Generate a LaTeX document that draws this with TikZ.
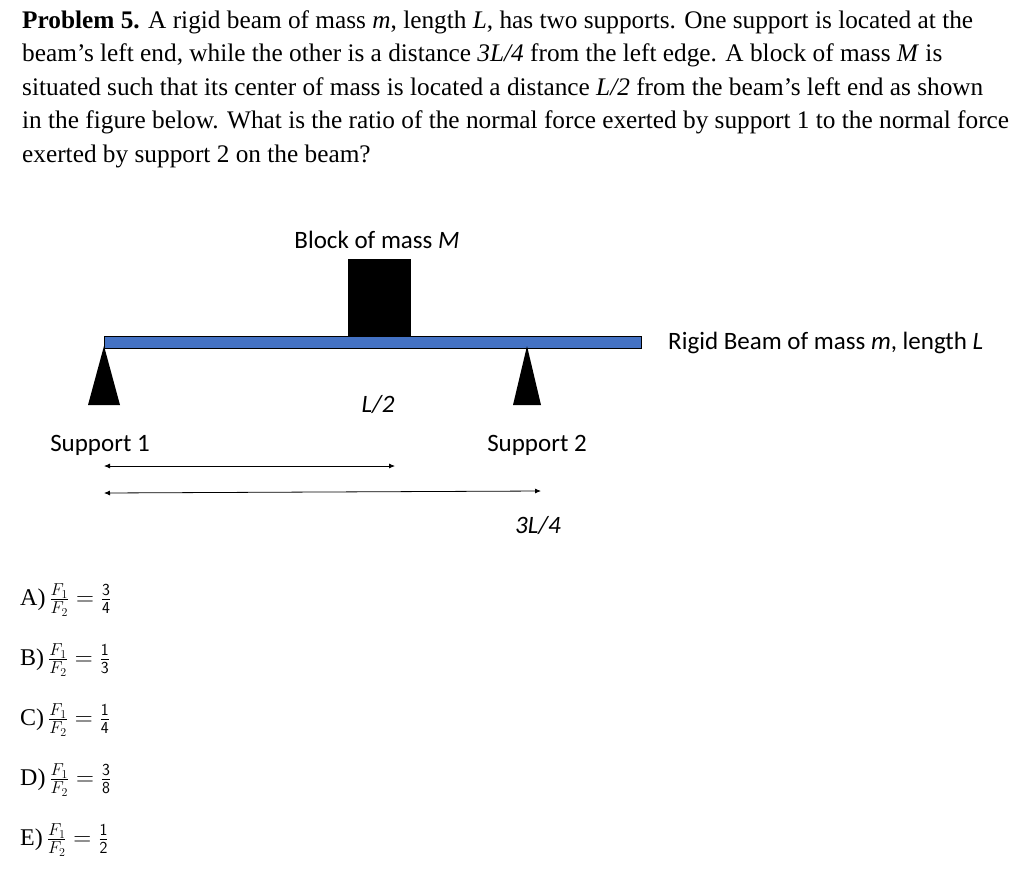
\documentclass[tikz,border=0pt]{standalone}
\usepackage{fontspec}
\usetikzlibrary{arrows.meta}
\setmainfont{Liberation Serif}
\newfontfamily\carl{Carlito}
\definecolor{beamblue}{RGB}{68,114,196}
\begin{document}
\begin{tikzpicture}[x=1pt,y=-1pt,
  lbl/.style={font=\carl\fontsize{25}{30}\selectfont, inner sep=0pt},
  sup/.style={fill=black}]
\useasboundingbox (0,0) rectangle (1024,878);
\node[anchor=north west, inner sep=0pt, align=left, font=\fontsize{25.3}{33.5}\selectfont] (txt) at (22,10)
{\textbf{Problem 5.} A rigid beam of mass \textit{m}, length \textit{L}, has two supports. One support is located at the\\
beam's left end, while the other is a distance \textit{3L/4} from the left edge. A block of mass \textit{M} is\\
situated such that its center of mass is located a distance \textit{L/2} from the beam's left end as shown\\
in the figure below. What is the ratio of the normal force exerted by support 1 to the normal force\\
exerted by support 2 on the beam?};
\draw[fill=black] (348,259) rectangle (410,336);
\node[draw=black, fill=beamblue, minimum width=537pt, minimum height=12pt, inner sep=0pt, anchor=north west] (beam) at (104,336) {};
\fill[sup] (104,346) -- (120,405) -- (88,405) -- cycle;
\fill[sup] (527,346) -- (541,405) -- (513,405) -- cycle;
\node[lbl] (blk) at (377,240) {Block of mass \textit{M}};
\node[lbl, anchor=west] (rb) at (668,343) {Rigid Beam of mass \textit{m}, length \textit{L}};
\node[lbl] (l2) at (378,404) {\textit{L/2}};
\node[lbl] (s1) at (100,445) {Support 1};
\node[lbl] (s2) at (537,445) {Support 2};
\node[lbl] (l34) at (538,525) {\textit{3L/4}};
\coordinate (a1) at (104,466); \coordinate (a2) at (395,466);
\coordinate (b1) at (104,493); \coordinate (b2) at (541,491);
\draw[thick,{Latex[length=6pt,width=5pt]}-{Latex[length=6pt,width=5pt]}] (a1) -- (a2);
\draw[thick,{Latex[length=6pt,width=5pt]}-{Latex[length=6pt,width=5pt]}] (b1) -- (b2);
\foreach \n/\l/\a/\b/\y in {qa/A/3/4/600, qb/B/1/3/660, qc/C/1/4/720, qd/D/3/8/780, qe/E/1/2/840}{
  \node[anchor=west, inner sep=0pt, font=\fontsize{24}{26}\selectfont] (\n) at (20,\y) {\l)\,$\frac{F_1}{F_2}=\frac{\mathsf{\a}}{\mathsf{\b}}$};
}
\end{tikzpicture}
\end{document}
